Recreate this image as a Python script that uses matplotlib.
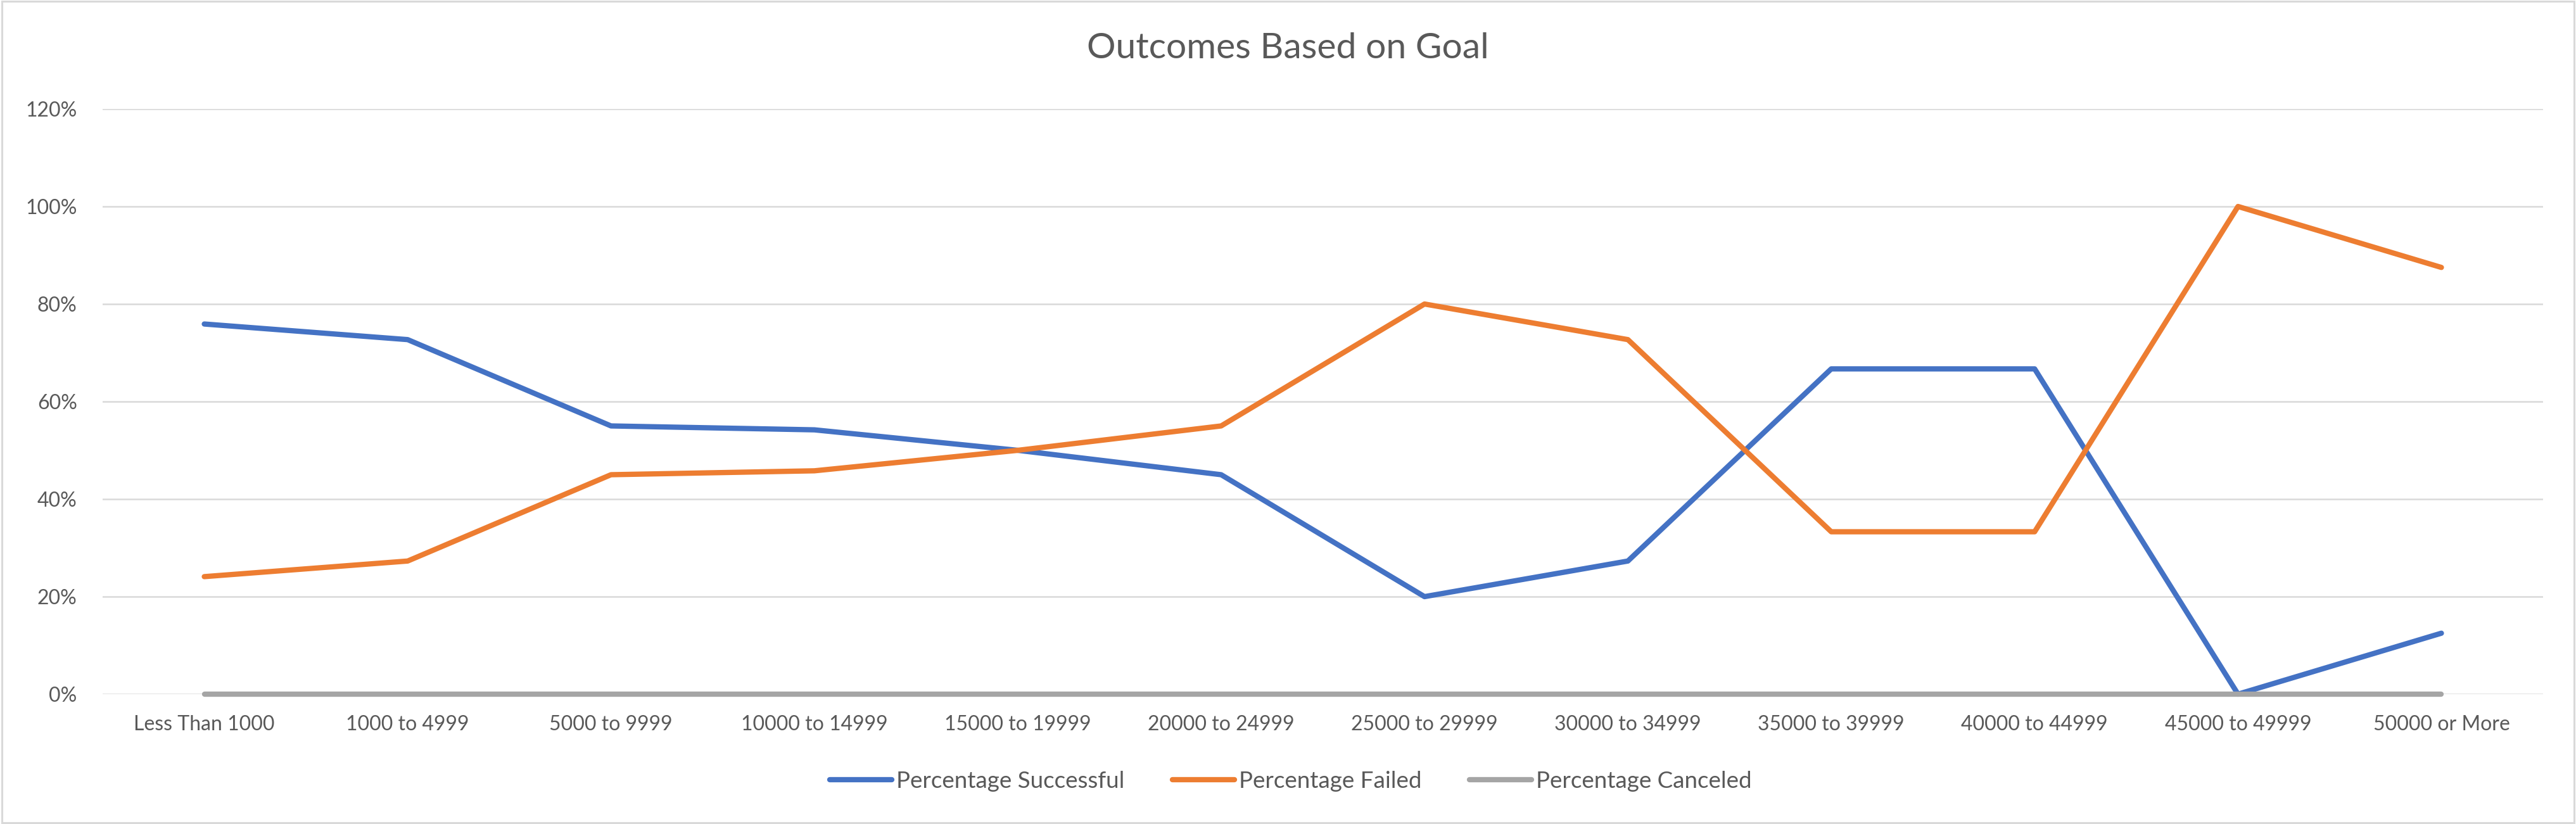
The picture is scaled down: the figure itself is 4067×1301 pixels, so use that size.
import matplotlib
matplotlib.use("Agg")
import matplotlib.pyplot as plt
from matplotlib.ticker import PercentFormatter

# -------------------------------
# Data
# -------------------------------
goal_ranges = ["Less Than 1000", "1000 to 4999", "5000 to 9999", "10000 to 14999",
               "15000 to 19999", "20000 to 24999", "25000 to 29999", "30000 to 34999",
               "35000 to 39999", "40000 to 44999", "45000 to 49999", "50000 or More"]
pct_successful = [0.759, 0.727, 0.550, 0.542, 0.500, 0.450, 0.200, 0.273, 0.667, 0.667, 0.000, 0.125]
pct_failed = [0.241, 0.273, 0.450, 0.458, 0.500, 0.550, 0.800, 0.727, 0.333, 0.333, 1.000, 0.875]
pct_canceled = [0, 0, 0, 0, 0, 0, 0, 0, 0, 0, 0, 0]

series_names = ["Percentage Successful", "Percentage Failed", "Percentage Canceled"]
series_colors = ["#4472C4", "#ED7D31", "#A5A5A5"]
text_color = "#595959"

plt.rcParams["font.family"] = ["Lato", "DejaVu Sans"]

# -------------------------------
# Figure
# -------------------------------
W, H = 4067, 1301
fig = plt.figure(figsize=(W / 100, H / 100), dpi=100)
fig.patch.set_facecolor("white")

# chart border
fig.add_artist(plt.Rectangle((0.0008, 0.0015), 0.9984, 0.997, transform=fig.transFigure,
                             fill=False, edgecolor="#D9D9D9", linewidth=2.2))

ax = fig.add_axes([162 / W, 205 / H, 3853 / W, 924 / H])
x = list(range(len(goal_ranges)))

for vals, name, col in zip([pct_successful, pct_failed, pct_canceled], series_names, series_colors):
    ax.plot(x, vals, color=col, linewidth=6, label=name, clip_on=False,
            solid_capstyle="round", solid_joinstyle="round")

ax.set_xlim(-0.5, len(goal_ranges) - 0.5)
ax.set_ylim(0, 1.2)
ax.set_yticks([0, 0.2, 0.4, 0.6, 0.8, 1.0, 1.2])
ax.yaxis.set_major_formatter(PercentFormatter(1.0, decimals=0))
ax.set_xticks(x)
ax.set_xticklabels(goal_ranges)

ax.grid(axis="y", color="#D9D9D9", linewidth=1.8)
ax.set_axisbelow(True)
for s in ax.spines.values():
    s.set_visible(False)
ax.tick_params(axis="both", length=0, labelsize=23, labelcolor=text_color)
ax.tick_params(axis="y", pad=29)
ax.tick_params(axis="x", pad=24)

fig.text(0.5, 1 - 77 / H, "Outcomes Based on Goal", ha="center", va="center",
         fontsize=41, color=text_color)

leg = fig.legend(loc="center", bbox_to_anchor=(2038 / W, 1 - 1233 / H), ncol=3, frameon=False,
                 fontsize=26.5, handlelength=2.65, handletextpad=0.2, columnspacing=2.05)
for t in leg.get_texts():
    t.set_color(text_color)

fig.savefig("out.png", dpi=100, facecolor="white")
